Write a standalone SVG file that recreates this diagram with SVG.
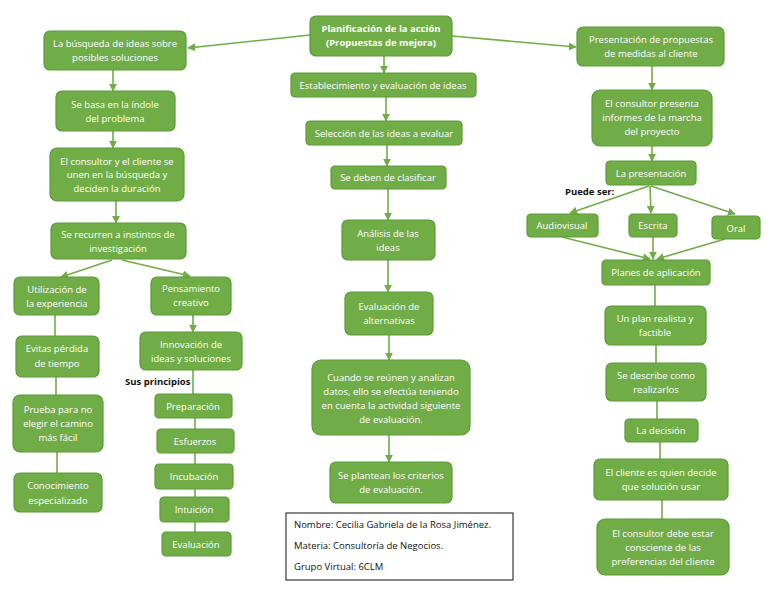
<svg xmlns="http://www.w3.org/2000/svg" width="768" height="594" viewBox="0 0 768 594">
<style>
.n{fill:#70ad47;stroke:#5b9a37;stroke-width:1.2}
.t{font-family:"Open Sans","Liberation Sans",sans-serif;font-size:9.5px;fill:#fff;text-anchor:middle}
.b{font-weight:bold}
.k{font-family:"Open Sans","Liberation Sans",sans-serif;font-size:9.5px;fill:#111}
.c line{stroke:#70ad47;stroke-width:1.6}
.a{marker-end:url(#m)}
</style>
<defs><marker id="m" viewBox="0 0 10 10" refX="9" refY="5" markerWidth="5" markerHeight="5" orient="auto"><path d="M0,0L10,5L0,10z" fill="#70ad47"/></marker></defs>
<rect width="768" height="594" fill="#fff"/>
<g class="c">
<line class="a" x1="310" y1="35" x2="188" y2="48"/>
<line class="a" x1="452" y1="36" x2="576" y2="47"/>
<line class="a" x1="113" y1="70" x2="113" y2="91"/>
<line class="a" x1="113" y1="131" x2="113" y2="148"/>
<line class="a" x1="116" y1="201" x2="116" y2="223"/>
<line class="a" x1="112" y1="260" x2="61" y2="277"/>
<line class="a" x1="122" y1="260" x2="190" y2="276"/>
<line x1="55" y1="315" x2="55" y2="336"/>
<line x1="56" y1="377" x2="56" y2="395"/>
<line x1="57" y1="452" x2="57" y2="473"/>
<line class="a" x1="193" y1="315" x2="193" y2="332"/>
<line x1="193" y1="370" x2="193" y2="394"/>
<line x1="195" y1="418" x2="195" y2="429"/>
<line x1="195" y1="453" x2="195" y2="464"/>
<line x1="195" y1="489" x2="195" y2="497"/>
<line x1="195" y1="522" x2="195" y2="532"/>
<line class="a" x1="384" y1="56" x2="384" y2="73"/>
<line class="a" x1="386" y1="97" x2="386" y2="121"/>
<line class="a" x1="387" y1="145" x2="387" y2="166"/>
<line class="a" x1="388" y1="189" x2="388" y2="220"/>
<line class="a" x1="388" y1="260" x2="388" y2="292"/>
<line class="a" x1="389" y1="335" x2="389" y2="360"/>
<line class="a" x1="389" y1="435" x2="389" y2="462"/>
<line class="a" x1="652" y1="66" x2="652" y2="90"/>
<line class="a" x1="652" y1="146" x2="652" y2="161"/>
<line class="a" x1="649" y1="186" x2="570" y2="213"/>
<line class="a" x1="650" y1="186" x2="651" y2="213"/>
<line class="a" x1="651" y1="186" x2="735" y2="214"/>
<line class="a" x1="562" y1="237" x2="650" y2="259"/>
<line class="a" x1="653" y1="237" x2="653" y2="259"/>
<line class="a" x1="725" y1="239" x2="657" y2="259"/>
<line x1="655" y1="285" x2="655" y2="306"/>
<line x1="656" y1="345" x2="656" y2="363"/>
<line x1="657" y1="401" x2="657" y2="419"/>
<line x1="660" y1="442" x2="660" y2="459"/>
<line x1="662" y1="500" x2="662" y2="519"/>
</g>
<g id="top"><rect class="n" x="310" y="16" width="142" height="40" rx="6"/><text class="t b" x="381" y="32">Planificación de la acción</text><text class="t b" x="381" y="46">(Propuestas de mejora)</text></g>
<g id="L1"><rect class="n" x="44" y="31" width="142" height="39" rx="6"/><text class="t" x="115" y="47">La búsqueda de ideas sobre</text><text class="t" x="115" y="61">posibles soluciones</text></g>
<g id="L2"><rect class="n" x="56" y="91" width="119" height="40" rx="6"/><text class="t" x="115" y="108">Se basa en la índole</text><text class="t" x="115" y="122">del problema</text></g>
<g id="L3"><rect class="n" x="50" y="148" width="134" height="53" rx="7"/><text class="t" x="117" y="165">El consultor y el cliente se</text><text class="t" x="117" y="178">unen en la búsqueda y</text><text class="t" x="117" y="192">deciden la duración</text></g>
<g id="L4"><rect class="n" x="51" y="223" width="135" height="36" rx="6"/><text class="t" x="118" y="238">Se recurren a instintos de</text><text class="t" x="118" y="252">investigación</text></g>
<g id="L5"><rect class="n" x="14" y="277" width="85" height="38" rx="6"/><text class="t" x="57" y="293">Utilización de</text><text class="t" x="57" y="307">la experiencia</text></g>
<g id="L6"><rect class="n" x="16" y="336" width="83" height="41" rx="6"/><text class="t" x="57" y="352">Evitas pérdida</text><text class="t" x="57" y="367">de tiempo</text></g>
<g id="L7"><rect class="n" x="13" y="395" width="90" height="57" rx="7"/><text class="t" x="58" y="413">Prueba para no</text><text class="t" x="58" y="427">elegir el camino</text><text class="t" x="58" y="441">más fácil</text></g>
<g id="L8"><rect class="n" x="14" y="473" width="88" height="39" rx="6"/><text class="t" x="58" y="489">Conocimiento</text><text class="t" x="58" y="504">especializado</text></g>
<g id="P1"><rect class="n" x="151" y="277" width="80" height="38" rx="6"/><text class="t" x="191" y="292">Pensamiento</text><text class="t" x="191" y="306">creativo</text></g>
<g id="P2"><rect class="n" x="140" y="332" width="102" height="38" rx="6"/><text class="t" x="191" y="348">Innovación de</text><text class="t" x="191" y="362">ideas y soluciones</text></g>
<text class="k" x="125" y="385" font-weight="bold" font-size="9">Sus principios</text>
<g id="P3"><rect class="n" x="155" y="394" width="77" height="24" rx="4"/><text class="t" x="193" y="410">Preparación</text></g>
<g id="P4"><rect class="n" x="157" y="429" width="77" height="24" rx="4"/><text class="t" x="195" y="445">Esfuerzos</text></g>
<g id="P5"><rect class="n" x="155" y="464" width="78" height="25" rx="4"/><text class="t" x="194" y="480">Incubación</text></g>
<g id="P6"><rect class="n" x="160" y="497" width="69" height="25" rx="4"/><text class="t" x="194" y="513">Intuición</text></g>
<g id="P7"><rect class="n" x="162" y="532" width="69" height="24" rx="4"/><text class="t" x="196" y="548">Evaluación</text></g>
<g id="C1"><rect class="n" x="291" y="73" width="185" height="24" rx="4"/><text class="t" x="383" y="89">Establecimiento y evaluación de ideas</text></g>
<g id="C2"><rect class="n" x="306" y="121" width="156" height="24" rx="4"/><text class="t" x="384" y="137">Selección de las ideas a evaluar</text></g>
<g id="C3"><rect class="n" x="331" y="166" width="115" height="23" rx="4"/><text class="t" x="388" y="181">Se deben de clasificar</text></g>
<g id="C4"><rect class="n" x="342" y="220" width="93" height="40" rx="6"/><text class="t" x="388" y="237">Análisis de las</text><text class="t" x="388" y="251">ideas</text></g>
<g id="C5"><rect class="n" x="345" y="292" width="88" height="43" rx="6"/><text class="t" x="389" y="310">Evaluación de</text><text class="t" x="389" y="324">alternativas</text></g>
<g id="C6"><rect class="n" x="312" y="360" width="158" height="75" rx="9"/><text class="t" x="391" y="381">Cuando se reúnen y analizan</text><text class="t" x="391" y="395">datos, ello se efectúa teniendo</text><text class="t" x="391" y="409">en cuenta la actividad siguiente</text><text class="t" x="391" y="423">de evaluación.</text></g>
<g id="C7"><rect class="n" x="330" y="462" width="122" height="41" rx="6"/><text class="t" x="391" y="479">Se plantean los criterios</text><text class="t" x="391" y="493">de evaluación.</text></g>
<g id="info"><rect x="286" y="513" width="227" height="67" fill="#fff" stroke="#111" stroke-width="1"/><text class="k" x="294" y="528">Nombre: Cecilia Gabriela de la Rosa Jiménez.</text><text class="k" x="294" y="549">Materia: Consultoría de Negocios.</text><text class="k" x="294" y="570">Grupo Virtual: 6CLM</text></g>
<g id="R1"><rect class="n" x="577" y="27" width="147" height="39" rx="6"/><text class="t" x="651" y="43">Presentación de propuestas</text><text class="t" x="651" y="57">de medidas al cliente</text></g>
<g id="R2"><rect class="n" x="592" y="90" width="120" height="56" rx="8"/><text class="t" x="652" y="107">El consultor presenta</text><text class="t" x="652" y="121">informes de la marcha</text><text class="t" x="652" y="135">del proyecto</text></g>
<g id="R3"><rect class="n" x="606" y="161" width="90" height="24" rx="4"/><text class="t" x="651" y="177">La presentación</text></g>
<text class="k" x="565" y="195" font-weight="bold" font-size="9">Puede ser:</text>
<g id="R4"><rect class="n" x="527" y="214" width="71" height="23" rx="4"/><text class="t" x="562" y="229">Audiovisual</text></g>
<g id="R5"><rect class="n" x="629" y="214" width="48" height="23" rx="4"/><text class="t" x="653" y="229">Escrita</text></g>
<g id="R6"><rect class="n" x="712" y="216" width="48" height="23" rx="4"/><text class="t" x="736" y="232">Oral</text></g>
<g id="R7"><rect class="n" x="602" y="260" width="108" height="25" rx="4"/><text class="t" x="656" y="276">Planes de aplicación</text></g>
<g id="R8"><rect class="n" x="605" y="306" width="101" height="39" rx="6"/><text class="t" x="655" y="322">Un plan realista y</text><text class="t" x="655" y="336">factible</text></g>
<g id="R9"><rect class="n" x="606" y="363" width="100" height="38" rx="6"/><text class="t" x="656" y="379">Se describe como</text><text class="t" x="656" y="393">realizarlos</text></g>
<g id="R10"><rect class="n" x="625" y="419" width="73" height="23" rx="4"/><text class="t" x="661" y="434">La decisión</text></g>
<g id="R11"><rect class="n" x="594" y="459" width="134" height="41" rx="6"/><text class="t" x="661" y="476">El cliente es quien decide</text><text class="t" x="661" y="490">que solución usar</text></g>
<g id="R12"><rect class="n" x="597" y="519" width="132" height="56" rx="8"/><text class="t" x="663" y="537">El consultor debe estar</text><text class="t" x="663" y="551">consciente de las</text><text class="t" x="663" y="565">preferencias del cliente</text></g>
</svg>
